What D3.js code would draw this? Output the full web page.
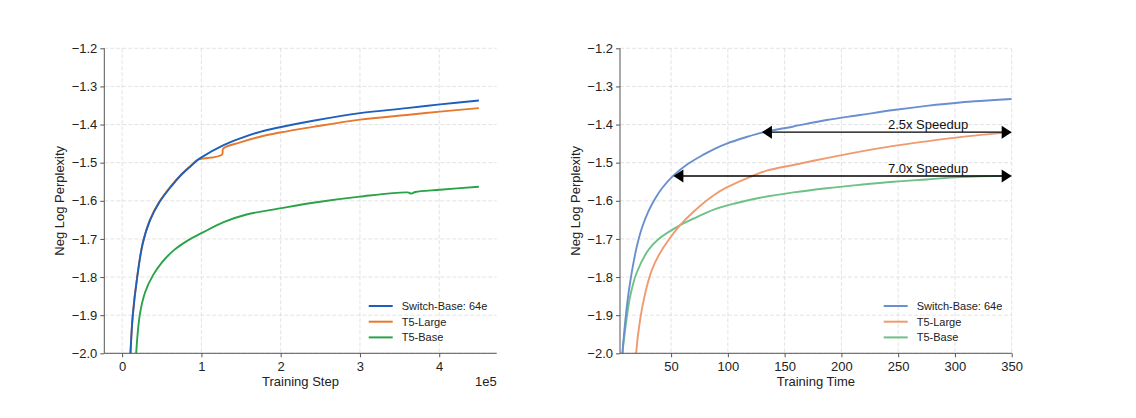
<!DOCTYPE html>
<html>
<head>
<meta charset="utf-8">
<script src="https://cdn.jsdelivr.net/npm/d3@7"></script>
<style>
  body { margin: 0; background: #fff; }
  svg { display: block; font-family: "Liberation Sans", Arial, sans-serif; }
  .grid line { stroke: #dcdcdc; stroke-dasharray: 4,2; stroke-width: 0.8; }
  .axis path, .axis line { stroke: #555; }
  .axis text { fill: #222; font-size: 13px; }
</style>
</head>
<body>
<svg id="chart" width="1136" height="418"></svg>
<script>
// tick values
let yTicks = [-2.0, -1.9, -1.8, -1.7, -1.6, -1.5, -1.4, -1.3, -1.2]
let stepTicks = [0, 1, 2, 3, 4]
let timeTicks = [50, 100, 150, 200, 250, 300, 350]
let seriesNames = ["Switch-Base: 64e", "T5-Large", "T5-Base"]

// left panel: training step (x in units of 1e5)
let switchByStep = [[0.095, -2.05], [0.105, -2.0], [0.134, -1.901], [0.189, -1.802], [0.26, -1.712], [0.35, -1.652],
    [0.47, -1.604], [0.62, -1.562], [0.75, -1.531], [0.87, -1.508], [0.945, -1.494], [1.0, -1.486],
    [1.28, -1.454], [1.49, -1.436], [1.74, -1.419], [1.99, -1.407], [2.41, -1.390], [3.0, -1.370],
    [3.59, -1.357], [4.01, -1.347], [4.5, -1.337]]
let largeByStep = [[0.095, -2.05], [0.105, -2.0], [0.134, -1.9], [0.189, -1.8], [0.26, -1.71], [0.35, -1.65],
    [0.47, -1.602], [0.62, -1.560], [0.75, -1.530], [0.87, -1.507], [0.945, -1.493], [1.0, -1.490],
    [1.26, -1.479], [1.275, -1.463], [1.49, -1.447], [1.74, -1.432], [1.99, -1.421], [2.41, -1.406],
    [3.0, -1.387], [3.59, -1.375], [4.01, -1.366], [4.5, -1.357]]
let baseByStep = [[0.167, -2.05], [0.177, -2.0], [0.222, -1.9], [0.29, -1.84], [0.39, -1.795], [0.5, -1.762],
    [0.65, -1.730], [0.836, -1.703], [1.0, -1.685], [1.28, -1.656], [1.57, -1.636], [1.99, -1.620],
    [2.41, -1.605], [3.0, -1.589], [3.6, -1.578], [3.65, -1.581], [3.7, -1.577], [4.01, -1.571], [4.5, -1.563]]

// right panel: training time
let switchByTime = [[6.6, -2.05], [7.2, -2.0], [9.5, -1.92], [12.4, -1.845], [15.5, -1.785], [19.8, -1.72],
    [24.2, -1.672], [30, -1.628], [36, -1.594], [42, -1.567], [52, -1.534], [65, -1.503], [78.5, -1.479],
    [88.8, -1.463], [99, -1.450], [115, -1.434], [130, -1.421], [157.8, -1.405], [187, -1.388], [216.5, -1.375],
    [246, -1.362], [275, -1.351], [304.5, -1.342], [350, -1.333]]
let largeByTime = [[18.6, -2.05], [19.2, -2.0], [22.7, -1.912], [27, -1.845], [33, -1.782], [40, -1.738],
    [47, -1.706], [58, -1.664], [70, -1.628], [88.8, -1.583], [99, -1.565], [116.6, -1.541], [134.2, -1.521],
    [157.8, -1.506], [187, -1.488], [216.5, -1.471], [246, -1.456], [275, -1.444], [304.5, -1.433], [350, -1.420]]
let baseByTime = [[6.6, -2.05], [7.2, -2.0], [9.5, -1.939], [13.9, -1.851], [19.8, -1.788], [30, -1.729],
    [38.8, -1.701], [58, -1.664], [69.6, -1.647], [88.8, -1.622], [106, -1.607], [128.4, -1.592],
    [157.8, -1.578], [187, -1.567], [216.5, -1.558], [246, -1.550], [275, -1.544], [304.5, -1.538], [350, -1.534]]

// speedup annotations on right panel
let speedups = [
    { label: "2.5x Speedup", from: 130, to: 350, y: -1.42 },
    { label: "7.0x Speedup", from: 52, to: 350, y: -1.535 }
]

let svg = d3.select("#chart")

let drawPanel = (opt) => {
    let x = d3.scaleLinear().domain(opt.xDomain).range([opt.left, opt.right])
    let y = d3.scaleLinear().domain([-2.0, -1.2]).range([353.3, 48.3])
    let g = svg.append("g")

    // grid
    let grid = g.append("g").attr("class", "grid")
    grid.selectAll(".gy").data(yTicks).enter().append("line")
        .attr("x1", opt.left).attr("x2", opt.right)
        .attr("y1", d => y(d)).attr("y2", d => y(d))
    grid.selectAll(".gx").data(opt.xTicks).enter().append("line")
        .attr("x1", d => x(d)).attr("x2", d => x(d))
        .attr("y1", y(-1.2)).attr("y2", y(-2.0))

    // clip for the lines
    let clipId = "clip" + opt.id
    g.append("clipPath").attr("id", clipId).append("rect")
        .attr("x", opt.left).attr("y", y(-1.2))
        .attr("width", opt.right - opt.left).attr("height", y(-2.0) - y(-1.2))

    let line = d3.line().x(d => x(d[0])).y(d => y(d[1])).curve(d3.curveCatmullRom.alpha(0.5))
    // draw back to front: green, orange, blue
    let order = [2, 1, 0]
    order.forEach(i => {
        g.append("path")
            .datum(opt.series[i])
            .attr("clip-path", `url(#${clipId})`)
            .attr("fill", "none")
            .attr("stroke", opt.colors[i])
            .attr("stroke-width", 1.9)
            .attr("stroke-linejoin", "round")
            .attr("d", line)
    })

    // axes
    let xAxis = g.append("g").attr("class", "axis")
        .attr("transform", `translate(0,${y(-2.0)})`)
        .call(d3.axisBottom(x).tickValues(opt.xTicks).tickSize(4).tickPadding(4).tickFormat(d3.format("d")))
    xAxis.select(".domain").attr("d", `M${opt.left},0H${opt.right}`)
    let yAxis = g.append("g").attr("class", "axis")
        .attr("transform", `translate(${opt.left},0)`)
        .call(d3.axisLeft(y).tickValues(yTicks).tickSize(4).tickPadding(3).tickFormat(d3.format(".1f")))
    yAxis.select(".domain").attr("d", `M0,${y(-1.2)}V${y(-2.0)}`)

    // axis titles
    g.append("text")
        .attr("x", (opt.left + opt.right) / 2).attr("y", 386)
        .attr("text-anchor", "middle").attr("font-size", 13).attr("fill", "#222")
        .text(opt.xLabel)
    g.append("text")
        .attr("transform", `translate(${opt.left - 40},${(y(-1.2) + y(-2.0)) / 2}) rotate(-90)`)
        .attr("text-anchor", "middle").attr("font-size", 13).attr("fill", "#222")
        .text("Neg Log Perplexity")

    // legend
    let leg = g.append("g").attr("transform", `translate(${opt.right - 128},0)`)
    seriesNames.forEach((name, i) => {
        let ly = 306 + i * 15.7
        leg.append("line").attr("x1", 0).attr("x2", 24).attr("y1", ly).attr("y2", ly)
            .attr("stroke", opt.colors[i]).attr("stroke-width", 2)
        leg.append("text").attr("x", 33).attr("y", ly + 4)
            .attr("font-size", 11).attr("fill", "#222").text(name)
    })
    return { g, x, y }
}

let left = drawPanel({
    id: "L", left: 104.3, right: 496.7, xDomain: [-0.225, 4.725], xTicks: stepTicks,
    xLabel: "Training Step",
    series: [switchByStep, largeByStep, baseByStep],
    colors: ["#1e5fbb", "#e8782c", "#2aa348"]
})
left.g.append("text").attr("x", 496.7).attr("y", 386)
    .attr("text-anchor", "end").attr("font-size", 13).attr("fill", "#222").text("1e5")

let right = drawPanel({
    id: "R", left: 620, right: 1011.7, xDomain: [5, 350], xTicks: timeTicks,
    xLabel: "Training Time",
    series: [switchByTime, largeByTime, baseByTime],
    colors: ["#6a8fd0", "#f09a70", "#6dc185"]
})

// speedup arrows
let rx = right.x, ry = right.y
let head = (xt, yt, dir) => {
    // dir -1 points left, +1 points right
    let len = 10, half = 6.5
    return `M${xt},${yt}L${xt - dir * len},${yt - half}L${xt - dir * len},${yt + half}Z`
}
speedups.forEach(s => {
    let yy = ry(s.y)
    right.g.append("line")
        .attr("x1", rx(s.from) + 8).attr("x2", rx(s.to) - 8)
        .attr("y1", yy).attr("y2", yy)
        .attr("stroke", "#000").attr("stroke-width", 1.3)
    right.g.append("path").attr("d", head(rx(s.from), yy, -1)).attr("fill", "#000")
    right.g.append("path").attr("d", head(rx(s.to), yy, 1)).attr("fill", "#000")
    right.g.append("text")
        .attr("x", rx(241)).attr("y", yy - 3)
        .attr("font-size", 13).attr("fill", "#111")
        .text(s.label)
})
</script>
</body>
</html>
